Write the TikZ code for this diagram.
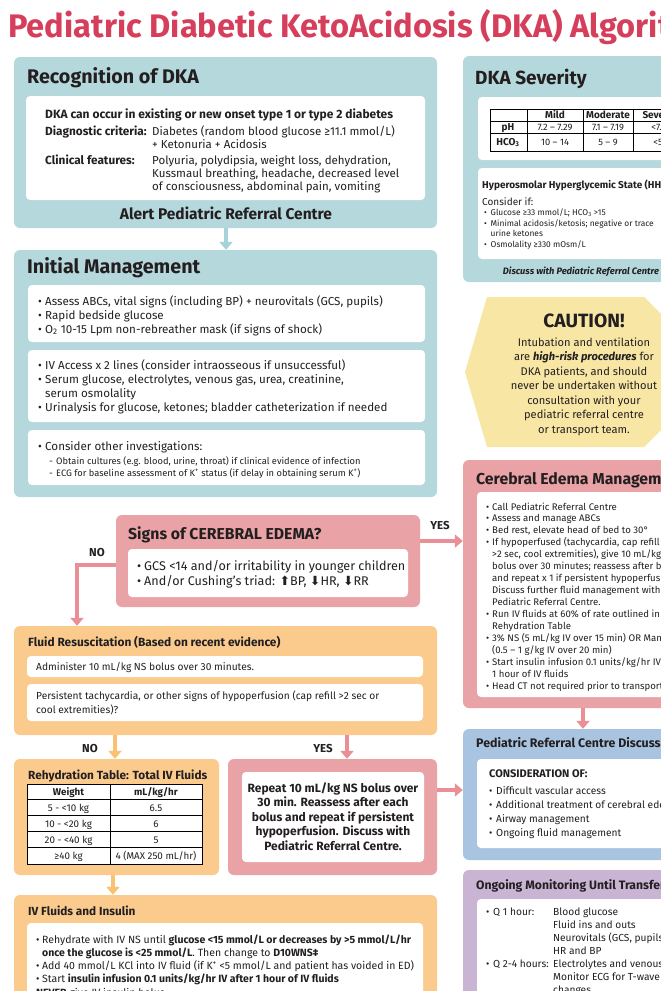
\documentclass[tikz,border=0pt]{standalone}
\usepackage{fontspec}
\setmainfont{Fira Sans}
\newfontfamily\symf{DejaVu Sans}
\usetikzlibrary{arrows.meta,fit,calc}
\definecolor{ink}{HTML}{231F20}
\definecolor{titlec}{HTML}{D63F5C}
\definecolor{tealc}{HTML}{B5D8DC}
\definecolor{tealA}{HTML}{A6D3DA}
\definecolor{pinkc}{HTML}{E9A3A6}
\definecolor{pinkA}{HTML}{EA8F96}
\definecolor{orangec}{HTML}{FBCB8E}
\definecolor{orangeA}{HTML}{F8C272}
\definecolor{yellowc}{HTML}{F7E6A4}
\definecolor{bluec}{HTML}{A9C4E0}
\definecolor{purplec}{HTML}{C9B4D4}
\newcommand\fz[1]{\fontsize{#1}{#1}\selectfont}
\newcounter{ln}
\newcommand\myl[4][]{\stepcounter{ln}\node[txt,#1] (l\arabic{ln}) at (#2,#3) {#4};}
\newcommand\bl[4][7]{\myl{#2}{#3}{•}\myl{#2+#1}{#3}{#4}}
\tikzset{
  txt/.style={anchor=base west, inner sep=0pt, text=ink, font=\fz{11.5}},
  panel/.style={fill=#1, rounded corners=6pt, inner sep=0pt, draw=none},
  wbox/.style={fill=white, rounded corners=4pt, inner sep=0pt, draw=none},
  arr/.style={draw=#1, line width=4.5pt, -{Triangle[width=13pt,length=8pt]}},
  tabline/.style={draw=black, line width=0.8pt},
}
\begin{document}
\begin{tikzpicture}[x=1pt,y=-1pt]
\useasboundingbox (0,0) rectangle (661,991);
\clip (0,0) rectangle (661,991);
\fill[white] (0,0) rectangle (661,991);

% title
\node[anchor=base west, inner sep=0pt, text=titlec, font=\bfseries\fz{32.6}] (title) at (8,37) {Pediatric Diabetic KetoAcidosis (DKA) Algorithm};

% ---------- Recognition ----------
\node[panel=tealc, fit={(14,57)(437,228)}] (rec) {};
\myl{27}{83}{\bfseries\fz{19.7}Recognition of DKA}
\node[wbox, fit={(26,96)(425,200)}] (recw) {};
\myl{45}{118}{\bfseries\fz{12}DKA can occur in existing or new onset type 1 or type 2 diabetes}
\myl{45}{135}{\bfseries\fz{11.8}Diagnostic criteria:}
\myl{152}{135}{Diabetes (random blood glucose ≥11.1 mmol/L)}
\myl{152}{148}{+ Ketonuria + Acidosis}
\myl{45}{164}{\bfseries\fz{11.8}Clinical features:}
\myl{152}{164}{Polyuria, polydipsia, weight loss, dehydration,}
\myl{152}{177}{Kussmaul breathing, headache, decreased level}
\myl{152}{190}{of consciousness, abdominal pain, vomiting}
\myl[anchor=base]{226}{219}{\bfseries\fz{15.5}Alert Pediatric Referral Centre}

% ---------- Initial management ----------
\node[panel=tealc, fit={(14,250)(437,497)}] (init) {};
\myl{27}{273}{\bfseries\fz{19.7}Initial Management}
\begin{scope}[txt/.append style={font=\fz{11.6}}]
\node[wbox, fit={(28,285)(425,342)}] (iw1) {};
\bl{38}{305}{Assess ABCs, vital signs (including BP) + neurovitals (GCS, pupils)}
\bl{38}{319}{Rapid bedside glucose}
\bl{38}{333}{O\textsubscript{2} 10-15 Lpm non-rebreather mask (if signs of shock)}
\node[wbox, fit={(28,350)(425,422)}] (iw2) {};
\bl{38}{369}{IV Access x 2 lines (consider intraosseous if unsuccessful)}
\bl{38}{383}{Serum glucose, electrolytes, venous gas, urea, creatinine,}
\myl{45}{397}{serum osmolality}
\bl{38}{411}{Urinalysis for glucose, ketones; bladder catheterization if needed}
\node[wbox, fit={(28,430)(425,485)}] (iw3) {};
\bl{38}{450}{Consider other investigations:}
\end{scope}
\begin{scope}[txt/.append style={font=\fz{9.3}}]
\myl{49}{464}{-}
\myl{56}{464}{Obtain cultures (e.g. blood, urine, throat) if clinical evidence of infection}
\myl{49}{476}{-}
\myl{56}{476}{ECG for baseline assessment of K\textsuperscript{+} status (if delay in obtaining serum K\textsuperscript{+})}
\end{scope}

% ---------- Signs of cerebral edema ----------
\node[panel=pinkc, fit={(116,515)(420,607)}] (edema) {};
\myl{128}{539}{\bfseries\fz{15.8}Signs of CEREBRAL EDEMA?}
\node[wbox, fit={(128,549)(408,597)}] (edemaw) {};
\begin{scope}[txt/.append style={font=\fz{12.6}}]
\bl{137}{570}{GCS <14 and/or irritability in younger children}
\bl{137}{585}{And/or Cushing’s triad: {\symf ⬆}BP, {\symf ⬇}HR, {\symf ⬇}RR}
\end{scope}
\myl[anchor=base]{97}{556}{\bfseries\fz{11.5}NO}
\myl[anchor=base]{440}{529}{\bfseries\fz{11.5}YES}

% ---------- Fluid resuscitation ----------
\node[panel=orangec, fit={(14,626)(437,735)}] (fluid) {};
\myl{28}{646}{\bfseries\fz{11.9}Fluid Resuscitation (Based on recent evidence)}
\node[wbox, fit={(27,656)(423,677)}] (fw1) {};
\myl{36}{670.5}{\fz{10.2}Administer 10 mL/kg NS bolus over 30 minutes.}
\node[wbox, fit={(27,684)(423,721)}] (fw2) {};
\myl{36}{699.5}{\fz{10.2}Persistent tachycardia, or other signs of hypoperfusion (cap refill >2 sec or}
\myl{36}{713.5}{\fz{10.2}cool extremities)?}
\myl[anchor=base]{90}{752}{\bfseries\fz{11.5}NO}
\myl[anchor=base]{323}{752}{\bfseries\fz{11.5}YES}

% ---------- Rehydration table ----------
\node[panel=orangec, fit={(14,759)(219,875)}] (rehyd) {};
\myl{28}{779}{\bfseries\fz{11.8}Rehydration Table: Total IV Fluids}
\node[fill=white, tabline, inner sep=0pt, fit={(27,784)(202,864)}] (rtab) {};
\draw[tabline] (110,784) -- (110,864);
\draw[tabline] (27,799) -- (202,799);
\draw[tabline] (27,815) -- (202,815);
\draw[tabline] (27,831) -- (202,831);
\draw[tabline] (27,847) -- (202,847);
\begin{scope}[txt/.append style={font=\fz{9.8}, anchor=base}]
\myl{68.5}{795.5}{\bfseries Weight}
\myl{156}{795.5}{\bfseries mL/kg/hr}
\myl{68.5}{811}{5 - <10 kg}
\myl{156}{811}{6.5}
\myl{68.5}{827}{10 - <20 kg}
\myl{156}{827}{6}
\myl{68.5}{843}{20 - <40 kg}
\myl{156}{843}{5}
\myl{68.5}{859.5}{≥40 kg}
\myl{156}{859.5}{4 (MAX 250 mL/hr)}
\end{scope}

% ---------- Repeat bolus ----------
\node[panel=pinkc, fit={(228,759)(437,875)}] (rep) {};
\node[wbox, fit={(242,772)(424,862)}] (repw) {};
\begin{scope}[txt/.append style={font=\bfseries\fz{12}, anchor=base}]
\myl{333}{792}{Repeat 10 mL/kg NS bolus over}
\myl{333}{806.5}{30 min. Reassess after each}
\myl{333}{821}{bolus and repeat if persistent}
\myl{333}{835.5}{hypoperfusion. Discuss with}
\myl{333}{850}{Pediatric Referral Centre.}
\end{scope}

% ---------- IV fluids and insulin ----------
\node[panel=orangec, fit={(14,895)(437,1010)}] (ivf) {};
\myl{28}{915}{\bfseries\fz{11.8}IV Fluids and Insulin}
\node[wbox, fit={(27,923)(423,1005)}] (ivw) {};
\begin{scope}[txt/.append style={font=\fz{10.5}}]
\bl[6]{36}{943}{Rehydrate with IV NS until \textbf{glucose <15 mmol/L or decreases by >5 mmol/L/hr}}
\myl{42}{956}{\textbf{once the glucose is <25 mmol/L}. Then change to \textbf{D10WNS‡}}
\bl[6]{36}{969}{Add 40 mmol/L KCl into IV fluid (if K\textsuperscript{+} <5 mmol/L and patient has voided in ED)}
\bl[6]{36}{982}{Start \textbf{insulin infusion 0.1 units/kg/hr IV after 1 hour of IV fluids}}
\myl{36}{996}{\textbf{NEVER} give IV insulin bolus}
\end{scope}

% ---------- DKA Severity ----------
\node[panel=tealc, fit={(463,56)(703,282)}] (sev) {};
\myl{475}{84}{\bfseries\fz{19}DKA Severity}
\node[wbox, fit={(478,97)(689,160)}] (sevw1) {};
\draw[tabline] (490,109) rectangle (683,151);
\draw[tabline] (527,109) -- (527,151);
\draw[tabline] (583,109) -- (583,151);
\draw[tabline] (633,109) -- (633,151);
\draw[tabline] (490,121) -- (683,121);
\draw[tabline] (490,133) -- (683,133);
\begin{scope}[txt/.append style={font=\fz{9.3}, anchor=base}]
\myl{555}{118.5}{\bfseries\fz{10}Mild}
\myl{608}{118.5}{\bfseries\fz{10}Moderate}
\myl{658}{118.5}{\bfseries\fz{10}Severe}
\myl{508}{130.5}{\bfseries\fz{10}pH}
\myl{555}{130.5}{7.2 – 7.29}
\myl{608}{130.5}{7.1 – 7.19}
\myl{658}{130.5}{<7.1}
\myl{508}{145}{\bfseries\fz{10}HCO\textsubscript{3}}
\myl{555}{145}{10 – 14}
\myl{608}{145}{5 – 9}
\myl{658}{145}{<5}
\end{scope}
\node[wbox, fit={(478,168)(689,259)}] (sevw2) {};
\myl{482}{188}{\bfseries\fz{10}Hyperosmolar Hyperglycemic State (HHS)}
\begin{scope}[txt/.append style={font=\fz{8.4}}]
\myl{482}{205}{\fz{10}Consider if:}
\bl[6.5]{484}{215.5}{Glucose ≥33 mmol/L; HCO\textsubscript{3} >15}
\bl[6.5]{484}{226}{Minimal acidosis/ketosis; negative or trace}
\myl{490.5}{236}{urine ketones}
\bl[6.5]{484}{247}{Osmolality ≥330 mOsm/L}
\end{scope}
\myl[anchor=base]{581}{274}{\bfseries\itshape\fz{9.3}Discuss with Pediatric Referral Centre}

% ---------- Caution ----------
\fill[yellowc] (465,372) -- (487,297) -- (644,297) -- (719,372) -- (644,447) -- (487,447) -- cycle;
\begin{scope}[txt/.append style={font=\fz{11.1}, anchor=base}]
\myl{584}{327}{\bfseries\fz{19.2}CAUTION!}
\myl{584}{346}{Intubation and ventilation}
\myl{584}{360.5}{are \textbf{\itshape high-risk procedures} for}
\myl{584}{375}{DKA patients, and should}
\myl{584}{389.5}{never be undertaken without}
\myl{584}{404}{consultation with your}
\myl{584}{418.5}{pediatric referral centre}
\myl{584}{433}{or transport team.}
\end{scope}

% ---------- Cerebral edema management ----------
\node[panel=pinkc, fit={(463,460)(703,708)}] (cem) {};
\myl{476}{484}{\bfseries\fz{15.8}Cerebral Edema Management}
\node[wbox, fit={(477,492)(689,697)}] (cemw) {};
\begin{scope}[txt/.append style={font=\fz{9.6}}]
\bl[6]{486}{510}{Call Pediatric Referral Centre}
\bl[6]{486}{521.9}{Assess and manage ABCs}
\bl[6]{486}{533.9}{Bed rest, elevate head of bed to 30°}
\bl[6]{486}{545.8}{If hypoperfused  (tachycardia, cap refill}
\myl{492}{557.7}{>2 sec, cool extremities), give 10 mL/kg NS}
\myl{492}{569.7}{bolus over 30 minutes; reassess after bolus}
\myl{492}{581.6}{and repeat x 1 if persistent hypoperfusion.}
\myl{492}{593.6}{Discuss further fluid management with}
\myl{492}{605.5}{Pediatric Referral Centre.}
\bl[6]{486}{617.4}{Run IV fluids at 60\% of rate outlined in}
\myl{492}{629.4}{Rehydration Table}
\bl[6]{486}{641.3}{3\% NS (5 mL/kg IV over 15 min) OR Mannitol}
\myl{492}{653.3}{(0.5 – 1 g/kg IV over 20 min)}
\bl[6]{486}{665.2}{Start insulin infusion 0.1 units/kg/hr IV after}
\myl{492}{677.1}{1 hour of IV fluids}
\bl[6]{486}{689}{Head CT not required prior to transport}
\end{scope}

% ---------- Pediatric referral centre discussion ----------
\node[panel=bluec, fit={(463,729)(703,860)}] (prc) {};
\myl{476}{747}{\bfseries\fz{12.4}Pediatric Referral Centre Discussion}
\node[wbox, fit={(477,759)(689,848)}] (prcw) {};
\begin{scope}[txt/.append style={font=\fz{10.2}}]
\myl{489}{777}{\bfseries\fz{11}CONSIDERATION OF:}
\bl{489}{794}{Difficult vascular access}
\bl{489}{808}{Additional treatment of cerebral edema}
\bl{489}{822}{Airway management}
\bl{489}{836}{Ongoing fluid management}
\end{scope}

% ---------- Ongoing monitoring ----------
\node[panel=purplec, fit={(463,870)(703,1010)}] (ong) {};
\myl{476}{889}{\bfseries\fz{12.2}Ongoing Monitoring Until Transfer}
\node[wbox, fit={(477,899)(689,1005)}] (ongw) {};
\begin{scope}[txt/.append style={font=\fz{10.2}}]
\bl{486}{915}{Q 1 hour:}
\myl{553}{915}{Blood glucose}
\myl{553}{928}{Fluid ins and outs}
\myl{553}{941}{Neurovitals (GCS, pupils)}
\myl{553}{954}{HR and BP}
\bl{486}{967}{Q 2-4 hours:}
\myl{553}{967}{Electrolytes and venous gas}
\myl{553}{980}{Monitor ECG for T-wave}
\myl{553}{993}{changes}
\end{scope}

% ---------- connectors ----------
\coordinate (c1) at (226,0);
\draw[arr=tealA] (rec.south -| c1) -- (init.north -| c1);
\coordinate (noc) at (77,565);
\draw[arr=pinkA] (edema.west |- noc) -- (noc) -- (noc |- fluid.north);
\coordinate (yesc) at (0,541);
\draw[arr=pinkA] (edema.east |- yesc) -- (cem.west |- yesc);
\coordinate (c2) at (115,0);
\draw[arr=orangeA] (fluid.south -| c2) -- (rehyd.north -| c2);
\coordinate (c3) at (347,0);
\draw[arr=pinkA] (fluid.south -| c3) -- (rep.north -| c3);
\coordinate (c4) at (113,0);
\draw[arr=orangeA] (rehyd.south -| c4) -- (ivf.north -| c4);
\coordinate (c5) at (0,790);
\draw[arr=pinkA] (rep.east |- c5) -- (prc.west |- c5);
\coordinate (c6) at (583,0);
\draw[arr=pinkA] (cem.south -| c6) -- (prc.north -| c6);
\end{tikzpicture}
\end{document}
